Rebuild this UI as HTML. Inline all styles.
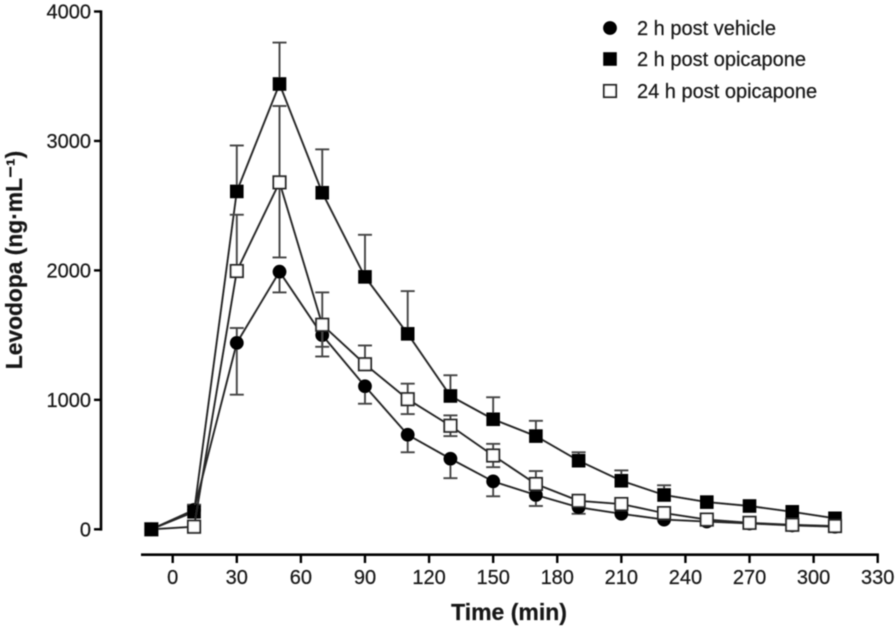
<!DOCTYPE html>
<html lang="en">
<head>
<meta charset="utf-8">
<title>Levodopa concentration over time</title>
<style>
html,body{margin:0;padding:0;background:#fff;width:896px;height:633px;overflow:hidden}
svg{display:block}
text{font-family:"Liberation Sans",Arial,sans-serif;fill:#141414;stroke:#141414;stroke-width:0.2px}
</style>
</head>
<body>
<svg id="chart" xmlns="http://www.w3.org/2000/svg" width="896" height="633" viewBox="0 0 896 633">
<defs><filter id="soft" x="-5%" y="-5%" width="110%" height="110%"><feGaussianBlur stdDeviation="0.55"/></filter></defs>
<g id="root" filter="url(#soft)">
<text transform="translate(22,260) rotate(-90)" text-anchor="middle" font-size="22.8" font-weight="700">Levodopa (ng·mL⁻¹)</text>
<text x="509" y="620" text-anchor="middle" font-size="23" font-weight="700">Time (min)</text>
</g>
</svg>
<script>
const timePoints = [-10, 10, 30, 50, 70, 90, 110, 130, 150, 170, 190, 210, 230, 250, 270, 290, 310];
const xTickLabels = [0, 30, 60, 90, 120, 150, 180, 210, 240, 270, 300, 330];
const yTickLabels = [0, 1000, 2000, 3000, 4000];

const vehicleValues = [0, 150, 1440, 1990, 1500, 1105, 730, 545, 370, 265, 170, 120, 75, 60, 45, 30, 20];
const vehicleUpper = [null, 190, 1555, null, null, null, null, null, null, null, null, null, null, null, null, null, null];
const vehicleLower = [null, null, 1040, 1830, 1335, 970, 595, 395, 255, 180, 120, null, null, null, null, null, null];

const opicapone2hValues = [0, 135, 2610, 3440, 2600, 1950, 1510, 1030, 850, 720, 530, 375, 265, 210, 180, 135, 85];
const opicapone2hUpper = [null, 175, 2965, 3760, 2935, 2275, 1840, 1190, 1020, 838, 595, 455, 340, null, null, null, null];
const opicapone2hLower = [null, null, null, null, null, null, null, null, null, null, null, null, null, null, null, null, null];

const opicapone24hValues = [0, 20, 1995, 2680, 1580, 1275, 1005, 800, 570, 350, 220, 195, 125, 75, 50, 35, 25];
const opicapone24hUpper = [null, null, 2430, 3270, 1830, 1420, 1125, 880, 660, 450, null, null, null, null, null, null, null];
const opicapone24hLower = [null, null, null, 2100, 1410, null, 890, 720, 480, null, null, null, null, null, null, null, null];

const legendLabels = ["2 h post vehicle", "2 h post opicapone", "24 h post opicapone"];

const NS = "http://www.w3.org/2000/svg";
const root = document.getElementById("root");
const INK = "#262626";
const xScale = v => 172.7 + v * 2.1364;
const yScale = v => 529.3 - v * 0.12945;

function make(tag, attrs, parent) {
  const el = document.createElementNS(NS, tag);
  for (const k in attrs) el.setAttribute(k, attrs[k]);
  (parent || root).appendChild(el);
  return el;
}

function drawMarker(kind, cx, cy, parent) {
  if (kind === "circle") {
    return make("circle", {cx: cx, cy: cy, r: 6.9, fill: "#000"}, parent);
  }
  if (kind === "filled") {
    return make("rect", {x: cx - 6.8, y: cy - 6.8, width: 13.6, height: 13.6, fill: "#000"}, parent);
  }
  return make("rect", {x: cx - 6.1, y: cy - 6.1, width: 12.2, height: 12.2, fill: "#fff", stroke: "#2a2a2a", "stroke-width": 2}, parent);
}

/* axes */
const yAxis = make("line", {x1: 101, y1: 10.4, x2: 101, y2: yScale(0) + 1.3, stroke: "#000", "stroke-width": 2.6});


const xAxis = make("line", {x1: 141, y1: 554.7, x2: xScale(330) + 1.2, y2: 554.7, stroke: "#000", "stroke-width": 2.6});



yTickLabels.forEach(v => {
  const tick = make("line", {x1: 94, y1: yScale(v), x2: 101, y2: yScale(v), stroke: "#000", "stroke-width": 2.4});
  
  
  const label = make("text", {x: 91, y: yScale(v) + 7, "text-anchor": "end", "font-size": 20});
  label.textContent = v;
  
  
});
xTickLabels.forEach(v => {
  const tick = make("line", {x1: xScale(v), y1: 554.7, x2: xScale(v), y2: 563, stroke: "#000", "stroke-width": 2.4});
  
  
  const label = make("text", {x: xScale(v), y: 584, "text-anchor": "middle", "font-size": 20});
  label.textContent = v;
  
  
});

function drawErrors(values, upper, lower, group) {
  timePoints.forEach((t, i) => {
    [upper[i], lower[i]].forEach(e => {
      if (e === null) return;
      const x = xScale(t);
      make("line", {x1: x, y1: yScale(values[i]), x2: x, y2: yScale(e), stroke: "#444", "stroke-width": 1.9}, group);
      make("line", {x1: x - 7, y1: yScale(e), x2: x + 7, y2: yScale(e), stroke: "#444", "stroke-width": 1.9}, group);
    });
  });
}

function drawLine(values, group) {
  const pts = timePoints.map((t, i) => xScale(t) + "," + yScale(values[i])).join(" ");
  make("polyline", {points: pts, fill: "none", stroke: INK, "stroke-width": 1.9}, group);
}

function drawMarkers(values, kind, group) {
  timePoints.forEach((t, i) => {
    const m = drawMarker(kind, xScale(t), yScale(values[i]), group);
    
    
  });
}

/* series */
const gVehicle = make("g", {});


const gOpi2 = make("g", {});


const gOpi24 = make("g", {});



drawErrors(vehicleValues, vehicleUpper, vehicleLower, gVehicle);
drawLine(vehicleValues, gVehicle);
drawMarkers(vehicleValues, "circle", gVehicle);

drawErrors(opicapone2hValues, opicapone2hUpper, opicapone2hLower, gOpi2);
drawLine(opicapone2hValues, gOpi2);
drawMarkers(opicapone2hValues, "filled", gOpi2);

drawErrors(opicapone24hValues, opicapone24hUpper, opicapone24hLower, gOpi24);
drawLine(opicapone24hValues, gOpi24);
drawMarkers(opicapone24hValues, "open", gOpi24);

/* the filled square sits in front at the baseline point */
const frontBaseline = drawMarker("filled", xScale(timePoints[0]), yScale(opicapone2hValues[0]));



/* legend */
const legendKinds = ["circle", "filled", "open"];
const legendRows = [28, 59, 91];
legendLabels.forEach((txt, i) => {
  const row = make("g", {});
  
  
  drawMarker(legendKinds[i], 610, legendRows[i], row);
  const t = make("text", {x: 637, y: legendRows[i] + 7, "font-size": 20}, row);
  t.textContent = txt;
});
</script>
</body>
</html>
